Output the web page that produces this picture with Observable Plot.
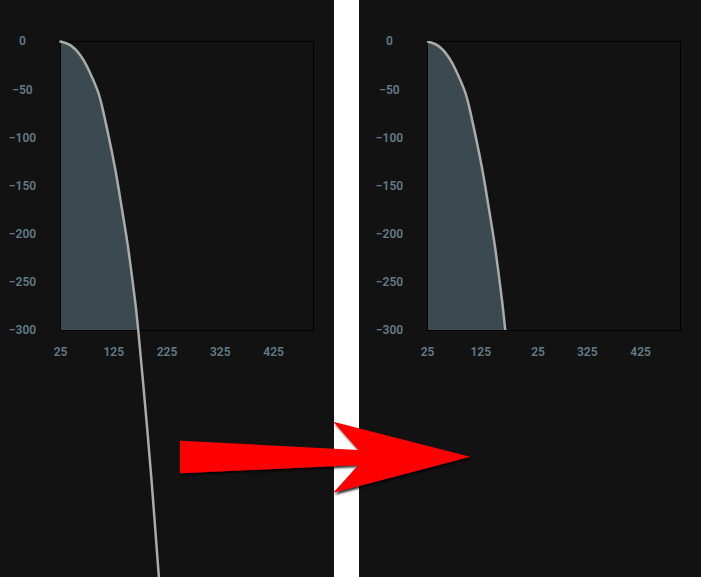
<!DOCTYPE html>
<html>
<head>
<meta charset="utf-8">
<script src="https://cdn.jsdelivr.net/npm/d3@7"></script>
<script src="https://cdn.jsdelivr.net/npm/@observablehq/plot@0.6"></script>
<style>
  html, body { margin: 0; padding: 0; background: #ffffff; }
  #page { position: relative; width: 701px; height: 577px; overflow: hidden; background: #ffffff; }
  .panel { position: absolute; top: 0; height: 577px; background: #121212; overflow: hidden; }
  #left { left: 0; width: 334px; }
  #right { left: 359px; width: 342px; }
  #arrow { position: absolute; left: 0; top: 0; width: 701px; height: 577px; pointer-events: none; }
</style>
</head>
<body>
<div id="page">
  <div class="panel" id="left"></div>
  <div class="panel" id="right"></div>
  <svg id="arrow" viewBox="0 0 701 577" width="701" height="577">
    <defs>
      <filter id="shadow" x="-10%" y="-30%" width="120%" height="160%">
        <feDropShadow dx="1.5" dy="2" stdDeviation="1.2" flood-color="#000" flood-opacity="0.85"/>
      </filter>
    </defs>
    <polygon points="180,440.7 358.3,450 333.3,421.7 470,456.7 333.3,492.7 358.3,465 180,473.3" fill="#ff0000" filter="url(#shadow)"/>
  </svg>
</div>
<script>
// Curve data
const xs = [25, 44, 62.5, 78, 94, 105, 122, 133, 144, 153, 162.5, 171, 187.5, 198.5, 210];
const ys = [0, -4, -14.5, -29.5, -50, -72, -116, -149, -186, -218, -258, -300, -400, -474, -558];

// Axis ticks and labels
const xTicks = [25, 125, 225, 325, 425];
const xLabelsLeft = ["25", "125", "225", "325", "425"];
const xLabelsRight = ["25", "125", "25", "325", "425"];
const yTicks = [0, -50, -100, -150, -200, -250, -300];
const xDomain = [25, 500];
const yDomain = [-300, 0];
const baseline = -300;

const data = xs.map((x, i) => ({x, y: ys[i]}));

const labelColor = "#637b89";
const fontFamily = "Roboto, 'Noto Sans', sans-serif";

function makeChart({width, marginLeft, marginRight, clipLine, labels}) {
  const all = xTicks.map((t, i) => ({t, label: labels[i]}));
  const normal = all.filter(d => String(d.t) === d.label);
  const odd = all.filter(d => String(d.t) !== d.label);
  return Plot.plot({
    width,
    height: 577,
    marginLeft,
    marginRight,
    marginTop: 41,
    marginBottom: 247,
    style: {background: "transparent", fontFamily, fontSize: "12px", fontWeight: 600, overflow: "hidden"},
    x: {domain: xDomain, axis: null},
    y: {domain: yDomain, axis: null},
    marks: [
      Plot.areaY(data, {x: "x", y1: baseline, y2: "y", fill: "#3b4a50", curve: "natural", clip: true}),
      Plot.frame({stroke: "#000000", strokeWidth: 1}),
      Plot.lineY(data, {x: "x", y: "y", stroke: "#ababab", strokeWidth: 2.5, curve: "natural", clip: clipLine}),
      Plot.axisY({ticks: yTicks, tickSize: 0, tickPadding: 38, textAnchor: "middle", fill: labelColor, fontSize: 12, fontWeight: 600, label: null}),
      Plot.text(normal, {x: "t", text: "label", frameAnchor: "bottom", dy: 25, fill: labelColor, fontSize: 12, fontWeight: 600}),
      Plot.text(odd, {x: "t", text: "label", frameAnchor: "bottom", dy: 25, dx: 4, fill: labelColor, fontSize: 12, fontWeight: 600})
    ]
  });
}

document.getElementById("left").appendChild(makeChart({width: 334, marginLeft: 60, marginRight: 21, clipLine: false, labels: xLabelsLeft}));
document.getElementById("right").appendChild(makeChart({width: 342, marginLeft: 68, marginRight: 21, clipLine: true, labels: xLabelsRight}));
</script>
</body>
</html>
